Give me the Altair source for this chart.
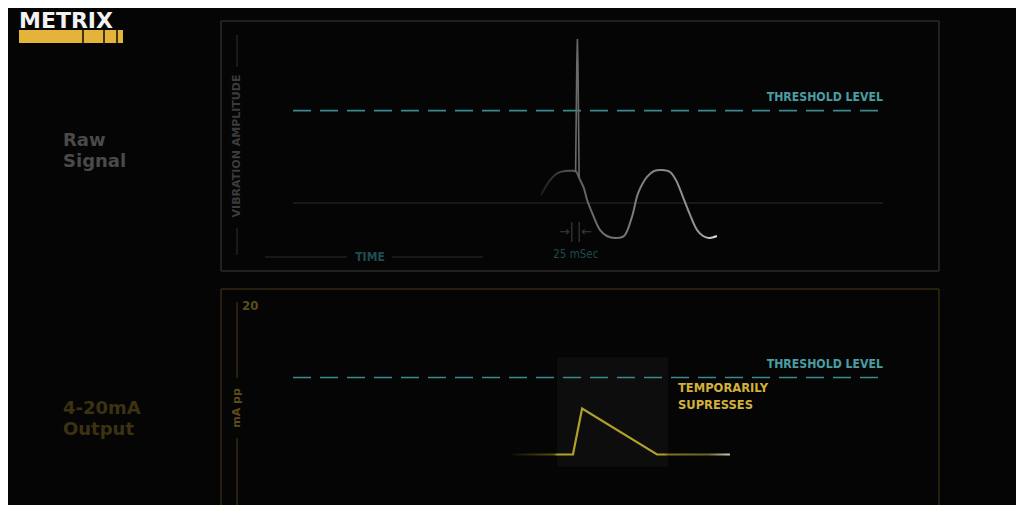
import altair as alt
import pandas as pd

# ---------------- data ----------------
# raw vibration signal (time in ms, amplitude in arbitrary units)
wave_t = [841, 858, 878, 898, 922, 940, 959, 970, 986, 997, 1014, 1041, 1064,
          1092, 1122, 1149, 1170, 1200, 1224, 1251, 1278, 1298, 1322, 1346, 1370,
          1390, 1410, 1437]
wave_amp = [0.24, 0.52, 0.76, 0.91, 0.97, 0.98, 0.96, 0.76, 0.45, 0.09, -0.30,
            -0.82, -1.0, -1.06, -1.0, -0.42, 0.30, 0.79, 0.97, 1.0, 0.94, 0.70, 0.18,
            -0.36, -0.82, -1.0, -1.06, -1.0]
spike_t = [958, 962, 964, 966, 970]
spike_amp = [0.97, 4.2, 4.97, 4.2, 0.76]
raw_threshold = [2.8]
raw_baseline = [0.0]
spike_window_ms = [945, 970]          # the "25 mSec" marker

# 4-20 mA output
out_t = [745, 949, 980, 1234, 1481]
out_ma = [9.0, 9.0, 12.4, 9.0, 9.0]
ma_threshold = [14.7]
ma_ticks = [20]
suppress_t = [895, 1271]
suppress_ma = [8.1, 16.2]

# ---------------- styling ----------------
NARROW = "Liberation Sans Narrow, DejaVu Sans Condensed, sans-serif"
BOLD = "DejaVu Sans"
TEAL = "#4a9ea3"
TEAL_LINE = "#3a8a8f"
GOLD = "#d2b03c"

xs = alt.Scale(domain=[0, 2000], range=[285, 875])
amp_s = alt.Scale(domain=[-2, 5], range=[261, 30])
ma_s = alt.Scale(domain=[4, 20], range=[514, 298])

one = pd.DataFrame({"k": [0]})
wave_df = pd.DataFrame({"t": wave_t, "amp": wave_amp})
spike_df = pd.DataFrame({"t": spike_t, "amp": spike_amp})
out_df = pd.DataFrame({"t": out_t, "ma": out_ma})
rth_df = pd.DataFrame({"v": raw_threshold, "label": ["THRESHOLD LEVEL"]})
rbase_df = pd.DataFrame({"v": raw_baseline})
mth_df = pd.DataFrame({"v": ma_threshold, "label": ["THRESHOLD LEVEL"]})
win_df = pd.DataFrame({"t": spike_window_ms})
sup_df = pd.DataFrame({"t": [suppress_t[0]], "t2": [suppress_t[1]],
                       "m": [suppress_ma[0]], "m2": [suppress_ma[1]]})
tick_df = pd.DataFrame({"ma": ma_ticks, "label": [str(v) for v in ma_ticks]})


def box(x, x2, y, y2, stroke=None, fill=None, sw=1):
    kw = {}
    if stroke:
        kw["stroke"] = stroke
        kw["strokeWidth"] = sw
    kw["fill"] = fill if fill else "transparent"
    return alt.Chart(one).mark_rect(**kw).encode(
        x=alt.value(x), x2=alt.value(x2), y=alt.value(y), y2=alt.value(y2))


def seg(x, x2, y, y2, color, sw=1):
    return alt.Chart(one).mark_rule(color=color, strokeWidth=sw).encode(
        x=alt.value(x), x2=alt.value(x2), y=alt.value(y), y2=alt.value(y2))


def label(txt, x, y, color, size, font=BOLD, weight="bold", align="left", angle=0,
          baseline="middle"):
    kw = dict(text=txt, color=color, fontSize=size, font=font, fontWeight=weight,
              align=align, baseline=baseline)
    if angle:
        kw["angle"] = angle
    return alt.Chart(one).mark_text(**kw).encode(x=alt.value(x), y=alt.value(y))


layers = []

# logo
layers.append(label("METRIX", 11, 20, "#f2f2f2", 22, baseline="alphabetic"))
layers.append(box(11, 115, 22, 35, fill="#e4b43a"))
for gx in (75, 96, 109):
    layers.append(seg(gx, gx, 22, 35, "#0a0a0a", 1.5))

# left labels
layers.append(label("Raw", 55, 133, "#4a4a4a", 18))
layers.append(label("Signal", 55, 154, "#4a4a4a", 18))
layers.append(label("4-20mA", 55, 401, "#3c3211", 18))
layers.append(label("Output", 55, 422, "#3c3211", 18))

# panel frames
layers.append(box(213, 931, 13, 263, stroke="#3c3c3c"))
layers.append(box(213, 931, 281, 540, stroke="#4a3a16"))

# top panel axis decorations
layers.append(seg(229, 229, 27, 59, "#303030"))
layers.append(seg(229, 229, 220, 247, "#303030"))
layers.append(label("VIBRATION AMPLITUDE", 229, 138, "#3c3c3c", 11, angle=270, align="center"))
layers.append(seg(257, 339, 249, 249, "#2a2a2a"))
layers.append(seg(384, 475, 249, 249, "#2a2a2a"))
layers.append(label("TIME", 362, 249, "#1f4d52", 12, font=NARROW, align="center"))

# bottom panel axis decorations
layers.append(seg(229, 229, 294, 370, "#4a3d14"))
layers.append(seg(229, 229, 430, 520, "#4a3d14"))
layers.append(label("mA pp", 229, 400, "#5e4d1a", 11, angle=270, align="center"))
layers.append(alt.Chart(tick_df).mark_text(
    color="#5e4d1a", fontSize=13, font=NARROW, fontWeight="bold", align="left",
    baseline="middle").encode(
    x=alt.value(234), y=alt.Y("ma:Q", scale=ma_s, axis=None), text="label:N"))

# top panel data
layers.append(alt.Chart(rbase_df).mark_rule(color="#2c2c2c", strokeWidth=1).encode(
    y=alt.Y("v:Q", scale=amp_s, axis=None), x=alt.value(285), x2=alt.value(875)))
layers.append(alt.Chart(rth_df).mark_rule(color=TEAL_LINE, strokeWidth=1.6,
                                          strokeDash=[18, 9]).encode(
    y=alt.Y("v:Q", scale=amp_s, axis=None), x=alt.value(285), x2=alt.value(875)))
layers.append(alt.Chart(rth_df).mark_text(color=TEAL, fontSize=12.2, font=NARROW,
                                          fontWeight="bold", align="right",
                                          baseline="middle", dy=-14).encode(
    y=alt.Y("v:Q", scale=amp_s, axis=None), x=alt.value(875), text="label:N"))
wave_grad = alt.LinearGradient(
    gradient="linear", x1=0, x2=1, y1=0, y2=0,
    stops=[alt.GradientStop(offset=0, color="#1c1c1c"),
           alt.GradientStop(offset=0.15, color="#505050"),
           alt.GradientStop(offset=0.25, color="#666666"),
           alt.GradientStop(offset=0.6, color="#828282"),
           alt.GradientStop(offset=0.9, color="#959595"),
           alt.GradientStop(offset=1, color="#dcdcdc")])
layers.append(alt.Chart(wave_df).mark_line(stroke=wave_grad, strokeWidth=2,
                                           interpolate="catmull-rom").encode(
    x=alt.X("t:Q", scale=xs, axis=None), y=alt.Y("amp:Q", scale=amp_s, axis=None),
    order="t:Q"))
layers.append(alt.Chart(spike_df).mark_line(color="#6a6a6a", strokeWidth=1.6).encode(
    x=alt.X("t:Q", scale=xs, axis=None), y=alt.Y("amp:Q", scale=amp_s, axis=None),
    order="t:Q"))
layers.append(alt.Chart(win_df).mark_rule(color="#3a3a3a", strokeWidth=1.2).encode(
    x=alt.X("t:Q", scale=xs, axis=None), y=alt.value(214), y2=alt.value(234)))
layers.append(alt.Chart(win_df.head(1)).mark_text(
    text="→", color="#3a3a3a", fontSize=13, font=BOLD, align="right",
    baseline="middle", dx=-2).encode(x=alt.X("t:Q", scale=xs, axis=None), y=alt.value(224)))
layers.append(alt.Chart(win_df.tail(1)).mark_text(
    text="←", color="#3a3a3a", fontSize=13, font=BOLD, align="left",
    baseline="middle", dx=2).encode(x=alt.X("t:Q", scale=xs, axis=None), y=alt.value(224)))
layers.append(alt.Chart(win_df.head(1)).mark_text(
    text="25 mSec", color="#1f4a4c", fontSize=11.5, font=NARROW, align="center",
    baseline="middle", dx=4).encode(x=alt.X("t:Q", scale=xs, axis=None), y=alt.value(247)))

# bottom panel data
layers.append(alt.Chart(sup_df).mark_rect(fill="#0d0d0d").encode(
    x=alt.X("t:Q", scale=xs, axis=None), x2="t2:Q",
    y=alt.Y("m:Q", scale=ma_s, axis=None), y2="m2:Q"))
layers.append(alt.Chart(mth_df).mark_rule(color=TEAL_LINE, strokeWidth=1.6,
                                          strokeDash=[18, 9]).encode(
    y=alt.Y("v:Q", scale=ma_s, axis=None), x=alt.value(285), x2=alt.value(875)))
layers.append(alt.Chart(mth_df).mark_text(color=TEAL, fontSize=12.2, font=NARROW,
                                          fontWeight="bold", align="right",
                                          baseline="middle", dy=-14).encode(
    y=alt.Y("v:Q", scale=ma_s, axis=None), x=alt.value(875), text="label:N"))
out_grad = alt.LinearGradient(
    gradient="linear", x1=0, x2=1, y1=0, y2=0,
    stops=[alt.GradientStop(offset=0, color="#100e05"),
           alt.GradientStop(offset=0.19, color="#5a5012"),
           alt.GradientStop(offset=0.205, color="#b0a02a"),
           alt.GradientStop(offset=0.7, color="#b0a02a"),
           alt.GradientStop(offset=0.715, color="#807220"),
           alt.GradientStop(offset=0.9, color="#6e6428"),
           alt.GradientStop(offset=1, color="#c8c8c0")])
layers.append(alt.Chart(out_df).mark_line(stroke=out_grad, strokeWidth=2.2).encode(
    x=alt.X("t:Q", scale=xs, axis=None), y=alt.Y("ma:Q", scale=ma_s, axis=None),
    order="t:Q"))
layers.append(label("TEMPORARILY", 670, 380, GOLD, 12.8, font=NARROW))
layers.append(label("SUPRESSES", 670, 397, GOLD, 12.8, font=NARROW))

chart = alt.layer(*layers).resolve_scale(y="independent").properties(
    width=1008, height=497, padding=0,
    autosize=alt.AutoSizeParams(type="none"),
).configure(background="#050505").configure_view(stroke=None)

chart.save("out.html", embed_options={"renderer": "svg", "actions": False})
